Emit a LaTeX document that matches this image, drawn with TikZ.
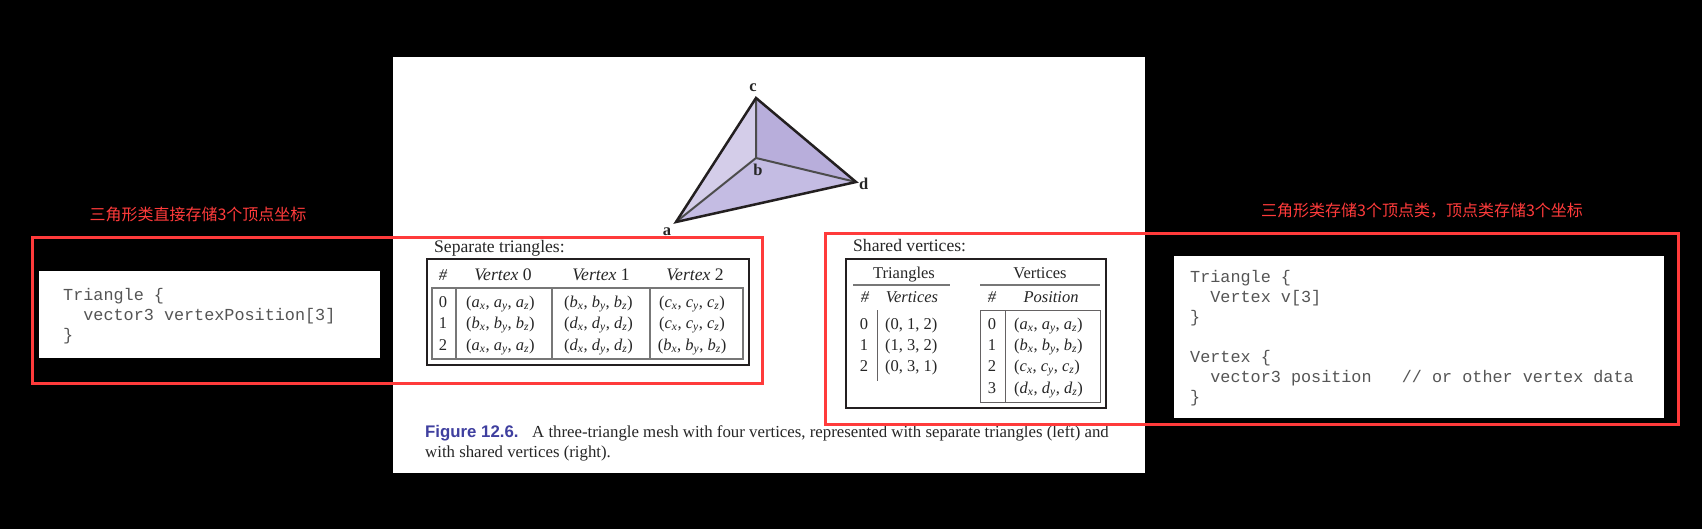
\documentclass[tikz,border=0pt]{standalone}
\usepackage{fontspec}
\setmainfont{Liberation Serif}
\setsansfont{Liberation Sans}
\setmonofont{Liberation Mono}
\newfontfamily\cjk{Noto Sans CJK SC}
\definecolor{redmark}{HTML}{FF3B3B}
\definecolor{figblue}{HTML}{3F3F9F}
\definecolor{codegray}{HTML}{555555}
\definecolor{edgedark}{HTML}{231F20}
\definecolor{ruleg}{HTML}{777777}
\newcommand{\tri}[1]{(\textit{#1}\textsubscript{\textit{x}}, \textit{#1}\textsubscript{\textit{y}}, \textit{#1}\textsubscript{\textit{z}})}
\tikzset{
  txt/.style={inner sep=0pt,anchor=base,font=\fontsize{16.5}{20}\selectfont,text=black!85},
  txtl/.style={txt,anchor=base west},
  big/.style={font=\fontsize{17.6}{20}\selectfont},
  vlabel/.style={txt,font=\fontsize{16.5}{18}\selectfont\bfseries},
  codetxt/.style={inner sep=0pt,anchor=north west,align=left,text=codegray,font=\fontsize{16.8}{20}\selectfont\ttfamily},
  remark/.style={inner sep=0pt,anchor=base,text=redmark,font=\fontsize{16}{20}\selectfont\cjk},
  captxt/.style={inner sep=0pt,anchor=base west,text=black!85,font=\fontsize{16.8}{20}\selectfont},
  outer/.style={draw=edgedark,line width=2.5pt},
  inner/.style={draw=ruleg,line width=1.4pt},
  thin rule/.style={draw=edgedark!70,line width=0.9pt},
  redbox/.style={draw=redmark,line width=3pt}
}
\begin{document}
\begin{tikzpicture}[x=1pt,y=-1pt]
  \fill[black] (0,0) rectangle (1702,529);
  \fill[white] (393,57) rectangle (1145,473);
  \fill[white] (39,271) rectangle (380,358);
  \fill[white] (1174,256) rectangle (1664,418);
  % mesh
  \coordinate (a) at (676,222);
  \coordinate (b) at (756,158);
  \coordinate (c) at (756,98);
  \coordinate (d) at (856,182);
  \fill[fill={rgb,255:red,212;green,205;blue,233}] (a)--(b)--(c)--cycle;
  \fill[fill={rgb,255:red,184;green,174;blue,219}] (b)--(c)--(d)--cycle;
  \fill[fill={rgb,255:red,196;green,188;blue,227}] (a)--(b)--(d)--cycle;
  \draw[draw=black!70,line width=2pt] (a)--(b) (c)--(b) (d)--(b);
  \draw[draw=edgedark,line width=2.5pt,line join=miter] (a)--(c)--(d)--cycle;
  \node[vlabel] (la) at (667,236) {a};
  \node[vlabel] (lb) at (758,176) {b};
  \node[vlabel] (lc) at (753,92) {c};
  \node[vlabel,anchor=base west] (ld) at (859,190) {d};
  % left table
  \node[txtl,big] (septitle) at (434,253) {Separate triangles:};
  \draw[outer] (427,259) rectangle (749,365);
  \draw[inner] (432,288) rectangle (743,359);
  \draw[inner] (456,288)--(456,359) (552,288)--(552,359) (650,288)--(650,359);
  \node[txt] (sephash) at (443,280) {\textit{\#}};
  \node[txt,big] (sepv0) at (503,280) {\textit{Vertex} 0};
  \node[txt,big] (sepv1) at (601,280) {\textit{Vertex} 1};
  \node[txt,big] (sepv2) at (695,280) {\textit{Vertex} 2};
  \foreach \i/\y/\p/\q/\r in {0/307/a/b/c,1/328/b/d/c,2/350/a/d/b}{
    \node[txt] (sepn\i) at (443,\y) {\i};
    \node[txtl] (sepa\i) at (466,\y) {\tri{\p}};
    \node[txtl] (sepb\i) at (564,\y) {\tri{\q}};
    \node[txt] (sepc\i) at (692,\y) {\tri{\r}};
  }
  % right table
  \node[txtl,big] (shtitle) at (853,252) {Shared vertices:};
  \draw[outer] (846,259) rectangle (1106,408);
  \node[txt] (shtri) at (904,279) {Triangles};
  \node[txt] (shver) at (1040,279) {Vertices};
  \draw[inner] (853,285)--(950,285) (980,285)--(1100,285);
  \node[txt] (shh1) at (865,302) {\textit{\#}};
  \node[txt] (shv1) at (912,302) {\textit{Vertices}};
  \node[txt] (shh2) at (992,302) {\textit{\#}};
  \node[txt] (shp2) at (1051,302) {\textit{Position}};
  \draw[thin rule] (877,310)--(877,381);
  \draw[thin rule] (980,310) rectangle (1100,402);
  \draw[thin rule] (1005,310)--(1005,402);
  \foreach \i/\y/\t in {0/329/{(0, 1, 2)},1/350/{(1, 3, 2)},2/371/{(0, 3, 1)}}{
    \node[txt] (shn\i) at (864,\y) {\i};
    \node[txtl] (sht\i) at (885,\y) {\t};
  }
  \foreach \i/\y/\p in {0/329/a,1/350/b,2/371/c,3/393/d}{
    \node[txt] (shm\i) at (992,\y) {\i};
    \node[txtl] (shq\i) at (1014,\y) {\tri{\p}};
  }
  % caption
  \node[captxt,font=\fontsize{16.8}{20}\selectfont\sffamily\bfseries,text=figblue] (figlab) at (425,437) {Figure 12.6.};
  \node[captxt] (cap1) at (532,437) {A three-triangle mesh with four vertices, represented with separate triangles (left) and};
  \node[captxt] (cap2) at (425,457) {with shared vertices (right).};
  % code boxes
  \node[codetxt] (codel) at (63,288) {Triangle \{\\\ \ vector3 vertexPosition[3]\\\}};
  \node[codetxt] (coder) at (1190,270) {Triangle \{\\\ \ Vertex v[3]\\\}\\[20pt]Vertex \{\\\ \ vector3 position\ \ \ // or other vertex data\\\}};
  % red marks
  \draw[redbox] (32,238) rectangle (762,383);
  \draw[redbox] (825,234) rectangle (1678,424);
  \node[remark] (notel) at (198,221) {三角形类直接存储3个顶点坐标};
  \node[remark] (noter) at (1422,217) {三角形类存储3个顶点类，顶点类存储3个坐标};
\end{tikzpicture}
\end{document}
